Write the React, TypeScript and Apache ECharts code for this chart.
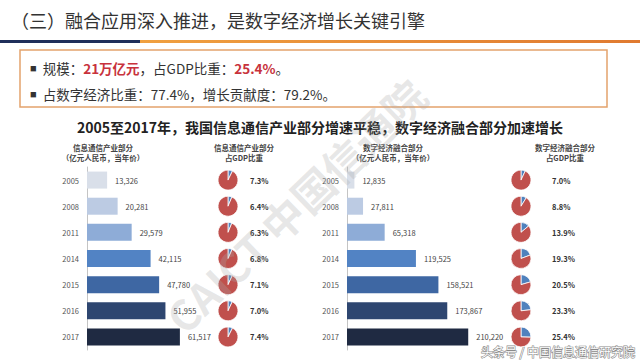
import React, { useEffect, useRef } from "react";
import * as echarts from "echarts";

const years = ["2005", "2008", "2011", "2014", "2015", "2016", "2017"];
const ictValues = [13326, 20281, 29579, 42115, 47780, 51955, 61517];
const ictGdpShare = [7.3, 6.4, 6.3, 6.8, 7.1, 7.0, 7.4];
const fusionValues = [12835, 27811, 65318, 119525, 158521, 173867, 210220];
const fusionGdpShare = [7.0, 8.8, 13.9, 19.3, 20.5, 23.3, 25.4];
const barColors = ["#d9dfe9", "#bccbe3", "#8eacd7", "#5283c4", "#3e67a3", "#2e4670", "#1f2a42"];

const titleText = "（三）融合应用深入推进，是数字经济增长关键引擎";
const subTitle = "2005至2017年，我国信息通信产业部分增速平稳，数字经济融合部分加速增长";

const FONT = '"Noto Sans CJK SC", "Noto Sans", sans-serif';
const GRID_TOP = 167;
const GRID_H = 183;

export default function App() {
  const ref = useRef<HTMLDivElement>(null);
  useEffect(() => {
    if (!ref.current) return;
    const chart = echarts.init(ref.current, null, { renderer: "svg" });
    const band = GRID_H / years.length;
    const cy = (i: number) => GRID_TOP + band * (i + 0.5);

    const pieSeries: any[] = [];
    const pieLabels: any[] = [];
    const addPies = (vals: number[], cx: number, lx: number) => {
      vals.forEach((v, i) => {
        pieSeries.push({
          type: "pie",
          center: [cx, cy(i)],
          radius: 10,
          startAngle: 90,
          label: { show: false },
          labelLine: { show: false },
          silent: true,
          itemStyle: { borderColor: "#ffffff", borderWidth: 0.8 },
          data: [
            { value: v, itemStyle: { color: "#4f81bd" } },
            { value: 100 - v, itemStyle: { color: "#c0504d" } },
          ],
        });
        pieLabels.push({
          type: "text",
          x: lx,
          y: cy(i),
          style: {
            text: v.toFixed(1) + "%",
            fill: "#333",
            fontSize: 7.5,
            fontWeight: "bold",
            fontFamily: FONT,
            textAlign: "left",
            textVerticalAlign: "middle",
          },
        });
      });
    };
    addPies(ictGdpShare, 228, 250);
    addPies(fusionGdpShare, 521, 552);

    const header = (x: number, l1: string, l2: string) => [
      {
        type: "text", x, y: 147,
        style: { text: l1, fill: "#444", fontSize: 7.5, fontWeight: "bold", fontFamily: FONT, textAlign: "center", textVerticalAlign: "middle" },
      },
      {
        type: "text", x, y: 157,
        style: { text: l2, fill: "#444", fontSize: 7.5, fontWeight: "bold", fontFamily: FONT, textAlign: "center", textVerticalAlign: "middle" },
      },
    ];

    const yAxisCommon = {
      type: "category",
      data: years,
      inverse: true,
      axisLine: { show: true, lineStyle: { color: "#c4c4c4", width: 1 } },
      axisTick: { show: false },
      axisLabel: { fontSize: 7.5, color: "#555", margin: 8, fontFamily: FONT },
    };
    const xAxisCommon = { type: "value", min: 0, show: false, splitLine: { show: false } };
    const barSeries = (vals: number[], idx: number) => ({
      type: "bar",
      xAxisIndex: idx,
      yAxisIndex: idx,
      barWidth: 17,
      silent: true,
      data: vals.map((v, i) => ({ value: v, itemStyle: { color: barColors[i] } })),
      label: {
        show: true,
        position: "right",
        distance: 8,
        fontSize: 7.5,
        color: "#444",
        fontFamily: FONT,
        formatter: (p: any) => Number(p.value).toLocaleString("en-US"),
      },
    });

    chart.setOption({
      animation: false,
      backgroundColor: "#ffffff",
      grid: [
        { left: 87, top: GRID_TOP, width: 151, height: GRID_H },
        { left: 347, top: GRID_TOP, width: 173, height: GRID_H },
      ],
      xAxis: [
        { ...xAxisCommon, gridIndex: 0, max: 100000 },
        { ...xAxisCommon, gridIndex: 1, max: 300000 },
      ],
      yAxis: [
        { ...yAxisCommon, gridIndex: 0 },
        { ...yAxisCommon, gridIndex: 1 },
      ],
      series: [barSeries(ictValues, 0), barSeries(fusionValues, 1), ...pieSeries],
      graphic: [
        {
          type: "text", x: 11, y: 20,
          style: { text: titleText, fill: "#333333", fontSize: 18, fontFamily: FONT, textVerticalAlign: "middle" },
        },
        {
          type: "rect", shape: { x: 0, y: 40, width: 140, height: 3 },
          style: { fill: "#1f2f5a" },
        },
        {
          type: "rect", shape: { x: 140, y: 40, width: 500, height: 3 },
          style: {
            fill: new echarts.graphic.LinearGradient(0, 0, 1, 0, [
              { offset: 0, color: "#f0a040" },
              { offset: 1, color: "#e07a30" },
            ]),
          },
        },
        {
          type: "rect", shape: { x: 20, y: 50, width: 587, height: 57 },
          style: { fill: "#ffffff", stroke: "#e3a36c", lineWidth: 1.5 },
        },
        {
          type: "text", x: 30, y: 68,
          style: {
            text: "{b|■}  规模：{r|21万亿元}，占GDP比重：{r|25.4%}。",
            fill: "#333", fontSize: 13.5, fontFamily: FONT, textVerticalAlign: "middle",
            rich: {
              b: { fontSize: 11, fill: "#333" },
              r: { fill: "#c8323c", fontWeight: "bold", fontSize: 13.5, fontFamily: FONT },
            },
          },
        },
        {
          type: "text", x: 30, y: 94,
          style: {
            text: "{b|■}  占数字经济比重：77.4%，增长贡献度：79.2%。",
            fill: "#333", fontSize: 13.5, fontFamily: FONT, textVerticalAlign: "middle",
            rich: { b: { fontSize: 11, fill: "#333" } },
          },
        },
        {
          type: "text", x: 320, y: 127,
          style: { text: subTitle, fill: "#222", fontSize: 14, fontWeight: "bold", fontFamily: FONT, textAlign: "center", textVerticalAlign: "middle" },
        },
        ...header(103, "信息通信产业部分", "（亿元人民币，当年价）"),
        ...header(244, "信息通信产业部分", "占GDP比重"),
        ...header(393, "数字经济融合部分", "（亿元人民币，当年价）"),
        ...header(565, "数字经济融合部分", "占GDP比重"),
        ...pieLabels,
        {
          type: "text",
          x: 295, y: 205, rotation: (44 * Math.PI) / 180, z: 100,
          style: { text: "CAICT 中国信通院", fill: "rgba(170,170,170,0.28)", fontSize: 42, fontWeight: "bold", fontFamily: FONT, textAlign: "center", textVerticalAlign: "middle" },
        },
        {
          type: "text", x: 635, y: 351,
          style: {
            text: "头条号 / 中国信息通信研究院", fill: "#ffffff", fontSize: 12, fontFamily: FONT,
            textAlign: "right", textVerticalAlign: "middle",
            stroke: "#8a8a8a", lineWidth: 1.2,
          },
        },
      ],
    });
    return () => chart.dispose();
  }, []);
  return <div ref={ref} style={{ width: 640, height: 360, position: "fixed", left: 0, top: 0 }} />;
}
